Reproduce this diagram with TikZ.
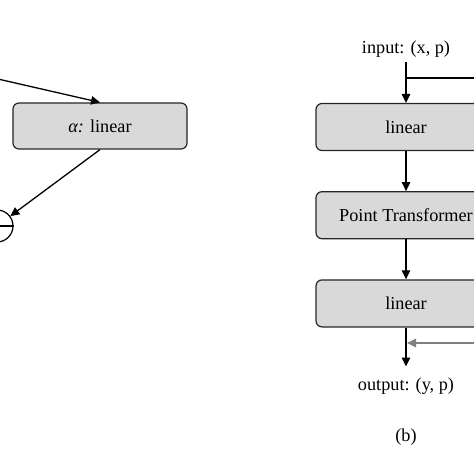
\documentclass[tikz,border=0pt]{standalone}
\usepackage{fontspec}
\setmainfont{Liberation Serif}
\usetikzlibrary{positioning,arrows.meta,calc}

\tikzset{
    block/.style={draw=black!85, fill=black!15, rounded corners=6bp, line width=1.2bp,
        minimum width=180bp, minimum height=47bp, font=\fontsize{18.3}{22}\selectfont},
    lbl/.style={inner sep=0pt, font=\fontsize{18.3}{22}\selectfont},
    arr/.style={-{Triangle[length=9bp,width=8.5bp]}, line width=1.3bp},
}

\begin{document}
\begin{tikzpicture}[x=1bp,y=-1bp]
    \useasboundingbox (0,0) rectangle (474,474);

    % part (a), cut at the left edge
    \node[block, minimum width=174bp, minimum height=46bp] (alpha) at (100,126) {{\itshape α:} linear};
    \node[draw, circle, minimum size=32bp, line width=1.2bp] (minus) at (-3,226) {};
    \draw[line width=1.2bp] (minus.west) -- (minus.east);
    \coordinate (src) at (-120,52);
    \draw[arr] (src) -- (alpha.north);
    \draw[arr] (alpha.south) -- (minus);

    % part (b)
    \node[block] (lin1) at (406,127) {linear};
    \node[block, below=40bp of lin1] (pt) {Point Transformer};
    \node[block, below=40bp of pt] (lin2) {linear};
    \node[lbl, above=45bp of lin1] (in) {input: (x, p)};
    \node[lbl, below=50bp of lin2] (out) {output: (y, p)};
    \node[lbl, below=34bp of out] (cap) {(b)};

    \coordinate (split) at ($(in.south)!0.45!(lin1.north)$);
    \coordinate (skipin) at ([xshift=100bp]split);
    \coordinate (join) at ($(lin2.south)!0.31!(out.north)$);
    \coordinate (skipout) at ([xshift=100bp]join);

    \draw[arr, shorten <=4bp] (in.south) -- (lin1.north);
    \draw[line width=1.3bp] (split) -- (skipin);
    \draw[arr] (lin1.south) -- (pt.north);
    \draw[arr] (pt.south) -- (lin2.north);
    \draw[arr, shorten >=11bp] (lin2.south) -- (out.north);
    \draw[arr, black!50] (skipout) -- ([xshift=1bp]join);
\end{tikzpicture}
\end{document}
